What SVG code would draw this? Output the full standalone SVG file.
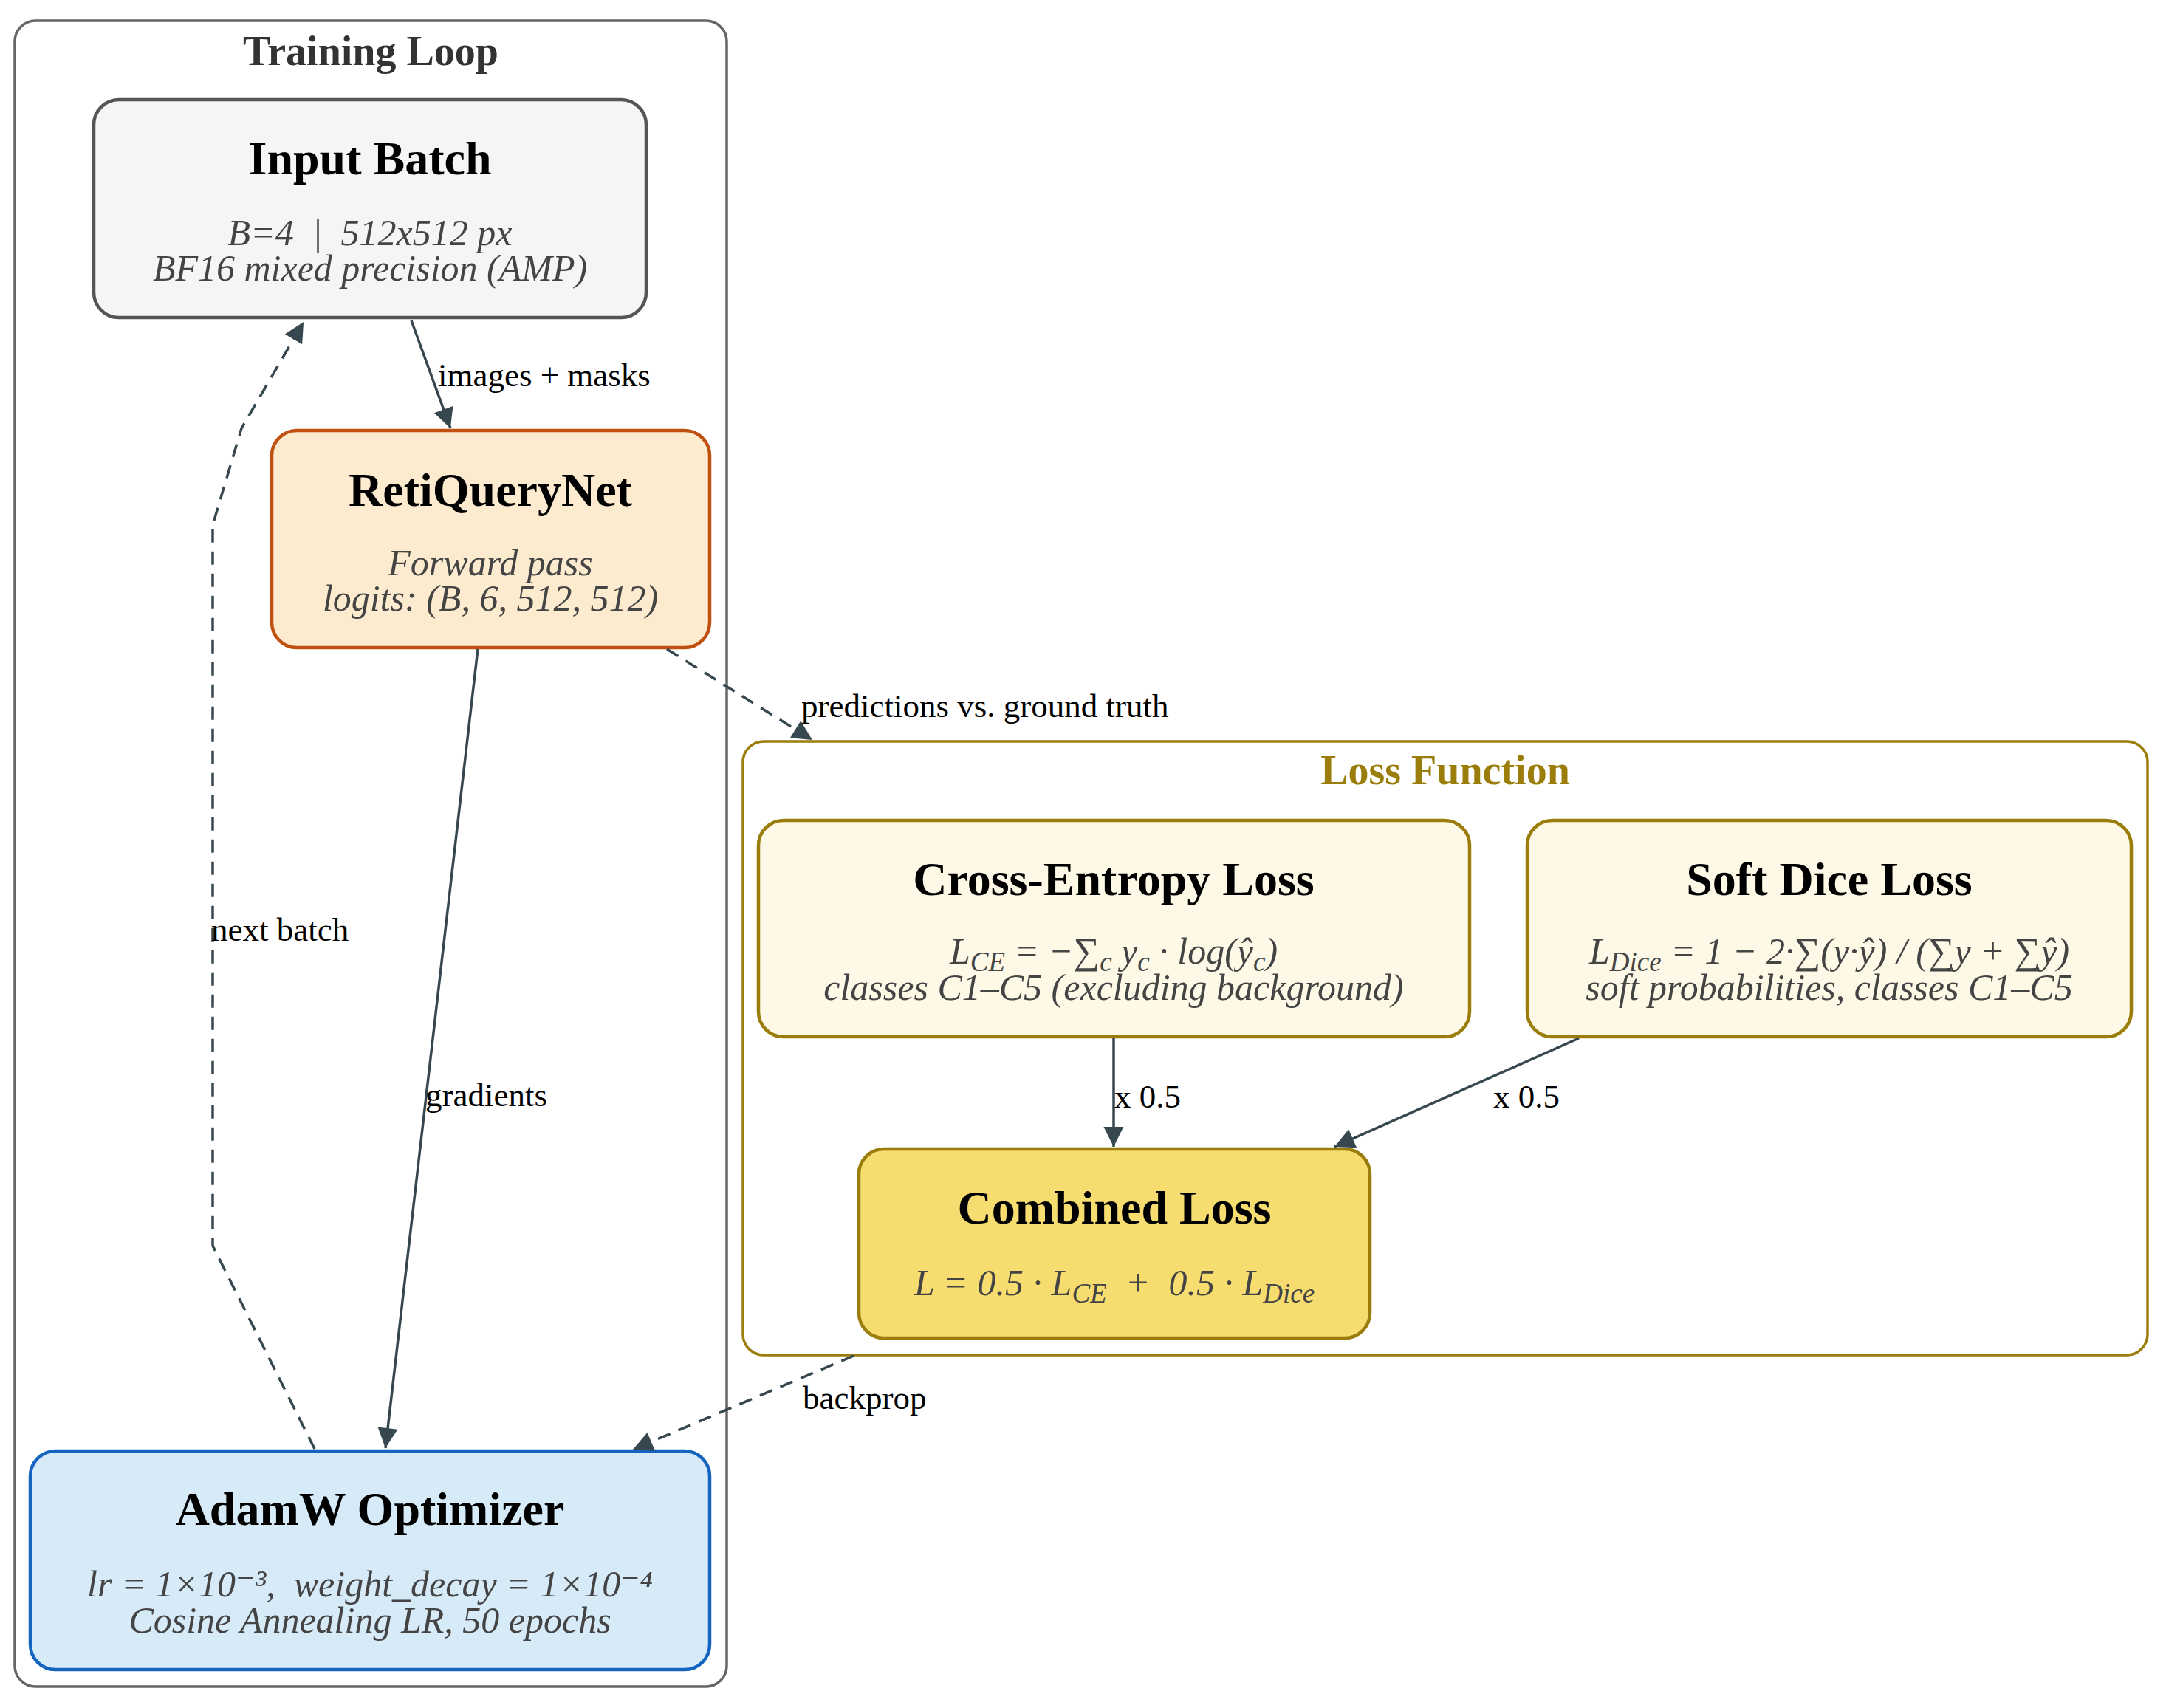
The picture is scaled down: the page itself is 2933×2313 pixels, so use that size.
<svg xmlns="http://www.w3.org/2000/svg" width="2933" height="2313" viewBox="0 0 2933 2313">
<style>
text{font-family:"Liberation Serif","DejaVu Serif",serif;text-anchor:middle;white-space:pre}
.t{font-weight:bold;font-size:64px;fill:#000}
.s{font-style:italic;font-size:50px;fill:#444}
.l{font-size:45px;fill:#000;text-anchor:start}
.e{fill:none;stroke:#37474f;stroke-width:3.5}
.d{stroke-dasharray:18,12}
.sub{font-size:37px}
</style>
<defs>
<marker id="a" viewBox="0 0 10 10" refX="9" refY="5" markerWidth="9" markerHeight="9" markerUnits="userSpaceOnUse" orient="auto" style="overflow:visible"><path d="M0,0L10,5L0,10z" fill="#37474f" transform="scale(3)translate(-7,-3.3)"/></marker>
</defs>
<rect width="2933" height="2313" fill="#fff"/>
<g id="cluster_train">
<rect x="20" y="28" width="964" height="2256" rx="28" fill="none" stroke="#666" stroke-width="3.5"/>
<text x="502" y="88" style="font-weight:bold;font-size:56px;fill:#333">Training Loop</text>
</g>
<g id="cluster_loss">
<rect x="1006" y="1004" width="1902" height="831" rx="28" fill="none" stroke="#9a7d0a" stroke-width="3.5"/>
<text x="1957" y="1062" style="font-weight:bold;font-size:56px;fill:#9a7d0a">Loss Function</text>
</g>
<g id="input">
<rect x="127" y="135" width="748" height="295" rx="34" fill="#f5f5f5" stroke="#555" stroke-width="4.5"/>
<text class="t" x="501" y="236">Input Batch</text>
<text class="s" x="501" y="332" xml:space="preserve">B=4  |  512x512 px</text>
<text class="s" x="501" y="380">BF16 mixed precision (AMP)</text>
</g>
<g id="net">
<rect x="368" y="583" width="593" height="294" rx="34" fill="#fdebd0" stroke="#c0500f" stroke-width="4.5"/>
<text class="t" x="664" y="685">RetiQueryNet</text>
<text class="s" x="664" y="779">Forward pass</text>
<text class="s" x="664" y="827">logits: (B, 6, 512, 512)</text>
</g>
<g id="ce">
<rect x="1027" y="1111" width="963" height="293" rx="34" fill="#fef9e7" stroke="#9a7d0a" stroke-width="4.5"/>
<text class="t" x="1508" y="1212">Cross-Entropy Loss</text>
<text class="s" x="1508" y="1305">L<tspan class="sub" dy="10">CE</tspan><tspan dy="-10"> = −∑</tspan><tspan class="sub" dy="10">c</tspan><tspan dy="-10"> y</tspan><tspan class="sub" dy="10">c</tspan><tspan dy="-10"> · log(ŷ</tspan><tspan class="sub" dy="10">c</tspan><tspan dy="-10">)</tspan></text>
<text class="s" x="1508" y="1354">classes C1–C5 (excluding background)</text>
</g>
<g id="dice">
<rect x="2068" y="1111" width="818" height="293" rx="34" fill="#fef9e7" stroke="#9a7d0a" stroke-width="4.5"/>
<text class="t" x="2477" y="1212">Soft Dice Loss</text>
<text class="s" x="2477" y="1305">L<tspan class="sub" dy="10">Dice</tspan><tspan dy="-10"> = 1 − 2·∑(y·ŷ) / (∑y + ∑ŷ)</tspan></text>
<text class="s" x="2477" y="1354">soft probabilities, classes C1–C5</text>
</g>
<g id="combined">
<rect x="1163" y="1556" width="692" height="256" rx="34" fill="#f7dc6f" stroke="#9a7d0a" stroke-width="4.5"/>
<text class="t" x="1509" y="1657">Combined Loss</text>
<text class="s" x="1509" y="1754" xml:space="preserve">L = 0.5 · L<tspan class="sub" dy="10">CE</tspan><tspan dy="-10">  +  0.5 · L</tspan><tspan class="sub" dy="10">Dice</tspan></text>
</g>
<g id="adam">
<rect x="41" y="1965" width="920" height="296" rx="34" fill="#d6eaf8" stroke="#1565c0" stroke-width="4.5"/>
<text class="t" x="501" y="2065">AdamW Optimizer</text>
<text class="s" x="501" y="2162" xml:space="preserve">lr = 1×10⁻³,  weight_decay = 1×10⁻⁴</text>
<text class="s" x="501" y="2211">Cosine Annealing LR, 50 epochs</text>
</g>
<g id="edges">
<path class="e" d="M557,434L610,580" marker-end="url(#a)"/>
<text class="l" x="593" y="523">images + masks</text>
<path class="e d" d="M903,879L1100,1002" marker-end="url(#a)"/>
<text class="l" x="1085" y="971">predictions vs. ground truth</text>
<path class="e" d="M647,879L522,1961" marker-end="url(#a)"/>
<text class="l" x="576" y="1498">gradients</text>
<path class="e" d="M1508,1406L1508,1553" marker-end="url(#a)"/>
<text class="l" x="1509" y="1500">x 0.5</text>
<path class="e" d="M2138,1406L1807,1553" marker-end="url(#a)"/>
<text class="l" x="2022" y="1500">x 0.5</text>
<path class="e d" d="M1156,1836L857,1963" marker-end="url(#a)"/>
<text class="l" x="1087" y="1908">backprop</text>
<path class="e d" d="M426,1962L288,1687L288,711L327,580L411,436" marker-end="url(#a)"/>
<text class="l" x="286" y="1274">next batch</text>
</g>
</svg>
